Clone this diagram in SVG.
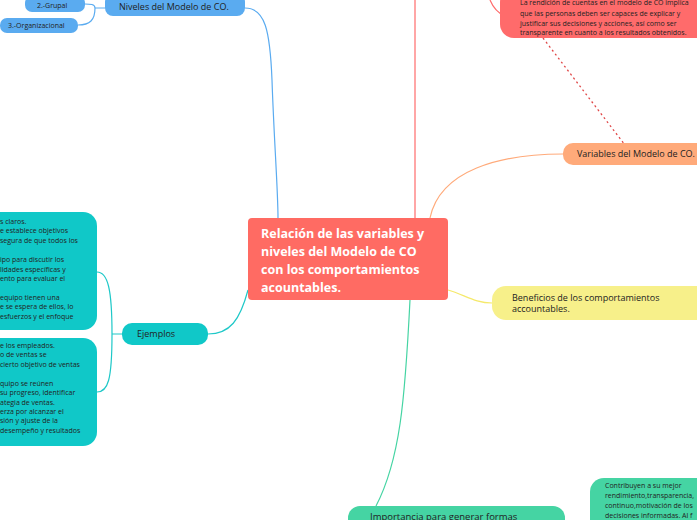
<svg xmlns="http://www.w3.org/2000/svg" width="697" height="520" viewBox="0 0 697 520">
<style>
text{font-family:"Open Sans","Noto Sans",sans-serif;}
.s{font-size:7px;fill:#222}
.m{font-size:9px;fill:#222}
.c{fill:none;stroke-width:1.2}
</style>
<rect width="697" height="520" fill="#fff"/>
<g id="connectors">
<path class="c" stroke="#ff6b6b" d="M415 218 L415 0"/>
<path class="c" stroke="#ff6b6b" d="M490 0 Q495 12 505 16"/>
<path fill="none" stroke="#e04848" stroke-width="1.3" stroke-dasharray="2,3" d="M543 38 L625 145"/>
<path class="c" stroke="#ffaa7a" d="M430 218 C440 170 500 154 563 154"/>
<path class="c" stroke="#f5e96b" d="M448 290 C465 295 475 303 492 303"/>
<path class="c" stroke="#45d4a3" d="M410 300 C405 400 400 460 376 506"/>
<path class="c" stroke="#1ec8c8" d="M248 290 C240 320 230 334 208 334"/>
<path class="c" stroke="#1ec8c8" d="M122 334 L112 334 M112 334 C112 290 108 272 97 272 M112 334 C112 380 108 392 97 392"/>
<path class="c" stroke="#5aabf0" d="M245 8 C265 8 270 30 272 80 C274 140 278 190 278 218"/>
<path class="c" stroke="#5aabf0" d="M105 8 L95 8 M95 8 C95 4 90 4 85 4 M95 8 C95 20 90 25 78 25"/>
</g>
<g id="center"><rect x="248" y="218" width="200" height="82" rx="4" fill="#ff6b63"/>
<text font-size="12.5" font-weight="bold" fill="#fff"><tspan x="261" y="238">Relación de las variables y</tspan><tspan x="261" y="256">niveles del Modelo de CO</tspan><tspan x="261" y="274">con los comportamientos</tspan><tspan x="261" y="292">acountables.</tspan></text></g>
<g id="rendicion"><rect x="500" y="-12" width="220" height="50" rx="14" fill="#ff6b6b"/>
<text class="s"><tspan x="520" y="5">La rendición de cuentas en el modelo de CO implica</tspan><tspan x="520" y="16">que las personas deben ser capaces de explicar y</tspan><tspan x="520" y="26">justificar sus decisiones y acciones, así como ser</tspan><tspan x="520" y="35">transparente en cuanto a los resultados obtenidos.</tspan></text></g>
<g id="variables"><rect x="563" y="143" width="150" height="22" rx="10" fill="#ffaa7a"/><text class="m" x="577" y="157">Variables del Modelo de CO.</text></g>
<g id="beneficios"><rect x="492" y="286" width="220" height="34" rx="14" fill="#f7f08a"/><text class="m"><tspan x="512" y="301">Beneficios de los comportamientos</tspan><tspan x="512" y="312">accountables.</tspan></text></g>
<g id="importancia"><rect x="348" y="506" width="217" height="30" rx="12" fill="#45d4a3"/><text font-size="9.5" fill="#222" x="370" y="520">Importancia para generar formas</text></g>
<g id="contribuyen"><rect x="590" y="478" width="130" height="60" rx="14" fill="#45d4a3"/><text class="s"><tspan x="605" y="488">Contribuyen a su mejor</tspan><tspan x="605" y="498">rendimiento,transparencia,</tspan><tspan x="605" y="508">continuo,motivación de los</tspan><tspan x="605" y="518">decisiones informadas. Al f</tspan></text></g>
<g id="ejemplos"><rect x="122" y="323" width="86" height="22" rx="10" fill="#10c8c8"/><text class="m" x="137" y="337">Ejemplos</text></g>
<g id="ej1"><rect x="-20" y="212" width="117" height="118" rx="14" fill="#10c8c8"/><text class="s"><tspan x="0" y="224">s claros.</tspan><tspan x="0" y="233">e establece objetivos</tspan><tspan x="0" y="243">segura de que todos los</tspan><tspan x="0" y="262">ipo para discutir los</tspan><tspan x="0" y="272">lidades específicas y</tspan><tspan x="0" y="281">ento para evaluar el</tspan><tspan x="0" y="300">equipo tienen una</tspan><tspan x="0" y="309">e se espera de ellos, lo</tspan><tspan x="0" y="319">esfuerzos y el enfoque</tspan></text></g>
<g id="ej2"><rect x="-20" y="338" width="117" height="108" rx="14" fill="#10c8c8"/><text class="s"><tspan x="0" y="348">e los empleados.</tspan><tspan x="0" y="357">o de ventas se</tspan><tspan x="0" y="367">cierto objetivo de ventas</tspan><tspan x="0" y="386">quipo se reúnen</tspan><tspan x="0" y="395">su progreso, identificar</tspan><tspan x="0" y="405">ategia de ventas.</tspan><tspan x="0" y="414">erza por alcanzar el</tspan><tspan x="0" y="423">sión y ajuste de la</tspan><tspan x="0" y="433">desempeño y resultados</tspan></text></g>
<g id="niveles"><rect x="105" y="-6" width="140" height="22" rx="8" fill="#5aabf0"/><text class="m" x="119" y="10">Niveles del Modelo de CO.</text></g>
<g id="grupal"><rect x="25" y="-4" width="60" height="16" rx="7" fill="#5aabf0"/><text class="s" x="37" y="8">2.-Grupal</text></g>
<g id="organizacional"><rect x="0" y="18" width="78" height="15" rx="7" fill="#5aabf0"/><text class="s" x="8" y="28">3.-Organizacional</text></g>
</svg>
